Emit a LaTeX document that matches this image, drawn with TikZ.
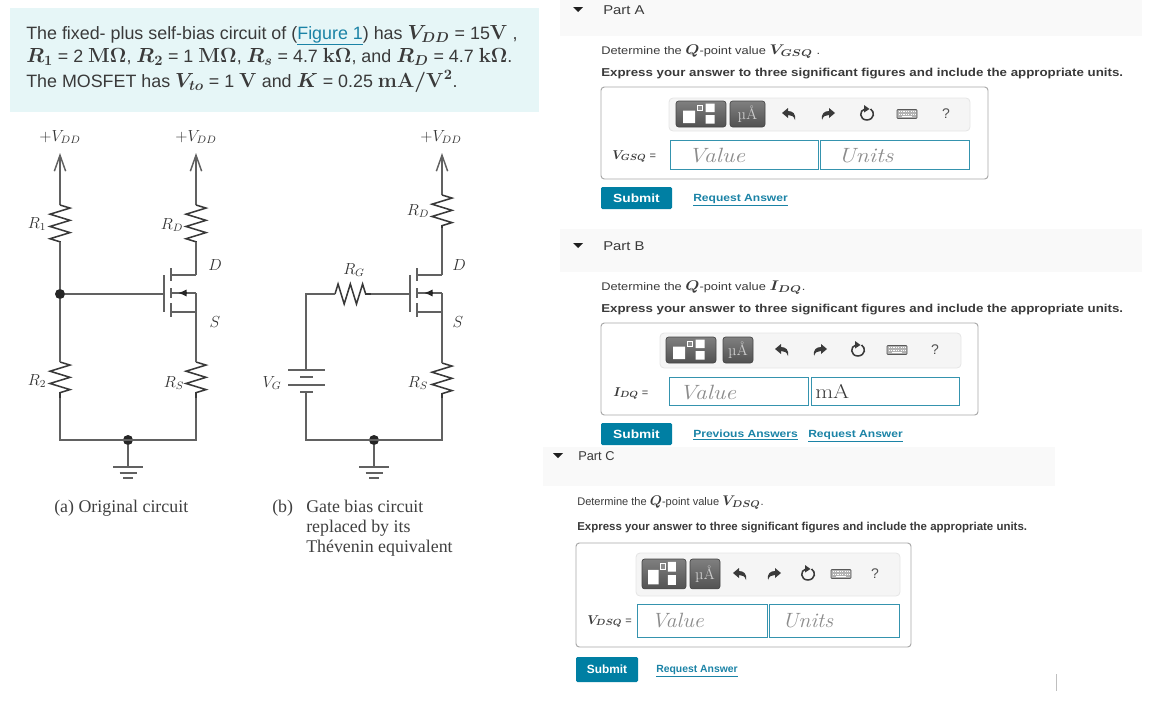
\documentclass[tikz,border=0pt]{standalone}
\usepackage{fix-cm}
\usepackage[no-math]{fontspec}
\setsansfont{Liberation Sans}
\newfontfamily\capfont{Liberation Serif}
\usetikzlibrary{arrows.meta,decorations.pathmorphing}
\definecolor{panelblue}{HTML}{E6F6F7}
\definecolor{headgray}{HTML}{F9F9F9}
\definecolor{inktext}{HTML}{3A3A3A}
\definecolor{linkteal}{HTML}{1B83A6}
\definecolor{btnteal}{HTML}{007FA3}
\definecolor{boxteal}{HTML}{3593AE}
\newcommand{\fsz}[1]{\fontsize{#1}{#1}\selectfont}
\newcommand{\mth}[1]{{\fsz{15.3}\boldmath$#1$}}
\newcommand{\mtq}[1]{{\fsz{10.5}\boldmath$#1$}}
\newcommand{\mtl}[1]{{\fsz{9.6}\boldmath$#1$}}
\newcommand{\widen}[1]{\scalebox{1.16}[1]{#1}}
\newcommand{\widec}[1]{\scalebox{1.07}[1]{#1}}
\tikzset{
	wire/.style={draw=black!62,line width=1.1pt},
	resist/.style={draw=black!78,line width=1.15pt,decorate,
		decoration={zigzag,segment length=9.2pt,amplitude=7.5pt}},
	dotnode/.style={circle,fill=black!85,inner sep=0pt,minimum size=7.5pt},
	fig/.style={text=black!80,inner sep=0pt,font=\fsz{12}},
	caption/.style={text=black!75,inner sep=0pt,anchor=base west,font=\capfont\fsz{13.4}},
	body/.style={text=inktext,inner sep=0pt,anchor=base west,font=\sffamily\fsz{13.4}},
	parttext/.style={text=inktext,inner sep=0pt,anchor=base west,font=\sffamily\fsz{9.6}},
	small/.style={text=inktext,inner sep=0pt,anchor=base west,font=\sffamily\fsz{8.3}},
	strong/.style={text=inktext,inner sep=0pt,anchor=base west,font=\sffamily\bfseries\fsz{8.6}},
	linktext/.style={text=linkteal,inner sep=0pt,anchor=base west,font=\sffamily\bfseries\fsz{7.8}},
	submit/.style={fill=btnteal,text=white,rounded corners=1pt,inner sep=0pt,
		minimum width=#1*.75pt,minimum height=22*.75pt,font=\sffamily\bfseries\fsz{8.9}},
	inbox/.style 2 args={draw=boxteal,line width=.8pt,inner sep=0pt,anchor=north west,
		minimum width=#1*.75pt,minimum height=#2*.75pt},
	hint/.style={text=black!45,inner sep=0pt,anchor=base west,font=\rmfamily\itshape\fsz{15.5}},
	panel/.style={draw=black!35,line width=.7pt,rounded corners=2.5pt},
	toolstrip/.style={draw=black!10,fill=black!4,rounded corners=3pt,line width=.6pt},
	head/.style={fill=headgray,draw=none},
	tri/.style={fill=black!88,draw=none},
	helpmark/.style={text=black!68,inner sep=0pt,font=\sffamily\fsz{10.5}},
	mosfet/.pic={
		\coordinate (-g) at (-32,0);
		\coordinate (-d) at (0,-19);
		\coordinate (-s) at (0,-1);
		\coordinate (-e) at (0,18);
		\coordinate (-m) at (-18,-1);
		\coordinate (-c) at (-25,-1);
		\draw[wire,line width=1.4pt] (-32,-19) -- (-32,18);
		\draw[wire,line width=1.4pt] (-25,-26) -- (-25,-13) (-25,-6) -- (-25,4) (-25,9) -- (-25,23);
		\draw[wire] (-25,-19) -- (-d) (-25,18) -- (-e);
		\draw[wire] (-s) -- (-m);
		\draw[wire,black!85,-{Latex[length=6.5pt,width=5.5pt]}] (-9,-1) -- (-m);
		\draw[wire] (-m) -- (-c);
	},
	groundsym/.pic={
		\coordinate (-top) at (0,0);
		\draw[wire,line width=1.3pt] (-15,0) -- (15,0) (-8.5,6) -- (8.5,6) (-5,11) -- (5,11);
	},
	matbtn/.pic={
		\shade[top color=black!50,bottom color=black!68,draw=black!72,rounded corners=2pt,line width=.5pt] (0,0) rectangle (50,26);
		\fill[white] (7,9.5) rectangle (19,22) (29.5,2.5) rectangle (38.5,11) (29.5,14) rectangle (38.5,22.5);
		\draw[white,line width=.4pt,fill=black!45] (21,4) rectangle (26,9);
	},
	unitbtn/.pic={
		\shade[top color=black!50,bottom color=black!68,draw=black!72,rounded corners=2pt,line width=.5pt] (0,0) rectangle (#1,26);
		\node[text=black!20,inner sep=0pt,font=\rmfamily\fsz{11.5}] (-lab) at (#1/2,13) {µÅ};
	},
	undoicon/.pic={
		\fill[inktext] (-7,-1) -- (-1,-6) -- (-1,-3) .. controls (4,-3) and (7,0) .. (6,6) .. controls (5,2) and (2,1) .. (-1,1) -- (-1,4) -- cycle;
	},
	reseticon/.pic={
		\draw[inktext,line width=1.15pt] (3.5,-5) .. controls (8,-2.5) and (7.5,5.5) .. (0,6) .. controls (-8,6) and (-8,-4) .. (-2,-5);
		\fill[inktext] (-3,-9) -- (2.5,-5) -- (-3,-1.5) -- cycle;
	},
	keyicon/.pic={
		\draw[black!65,fill=black!30,line width=.5pt,rounded corners=.6pt] (-10,-4.5) rectangle (10,4.5);
		\draw[white,line width=.7pt,dash pattern=on 1pt off .8pt] (-8.5,-2.2) -- (8.5,-2.2) (-8.5,0) -- (8.5,0);
		\draw[white,line width=.7pt] (-5,2.4) -- (5,2.4);
	}
}
\newcommand{\toolicons}[7]{
	\pic at (#1,#6) {undoicon};
	\pic[xscale=-1] at (#2,#6) {undoicon};
	\pic at (#3,#6) {reseticon};
	\pic at (#4,#6) {keyicon};
	\node[helpmark] (help#7) at (#5,#6) {?};
}
\begin{document}
\begin{tikzpicture}[x=.75pt,y=-.75pt]
	\useasboundingbox (0,0) rectangle (1164,714);
	\fill[panelblue] (10,8) rectangle (539,112);
	\node[body] (lineone) at (26,39) {The fixed- plus self-bias circuit of ({\color{linkteal}\underline{Figure 1}}) has \mth{V_{DD}} = 15\mth{\mathrm{V}} ,};
	\node[body] (linetwo) at (26,62) {\mth{R_1} = 2 \mth{\mathrm{M\Omega}}, \mth{R_2} = 1 \mth{\mathrm{M\Omega}}, \mth{R_s} = 4.7 \mth{\mathrm{k\Omega}}, and \mth{R_D} = 4.7 \mth{\mathrm{k\Omega}}.};
	\node[body] (linethree) at (26,87) {The MOSFET has \mth{V_{to}} = 1 \mth{\mathrm{V}} and \mth{K} = 0.25 \mth{\mathrm{mA/V^2}}.};

	\coordinate (vddl) at (60,153);
	\coordinate (rlt) at (60,205);
	\coordinate (rlb) at (60,242);
	\node[dotnode] (gatedot) at (60,294) {};
	\coordinate (rlct) at (60,362);
	\coordinate (rlcb) at (60,398);
	\coordinate (botl) at (60,440);
	\node[dotnode] (botdot) at (128,440) {};
	\coordinate (botr) at (196,440);
	\coordinate (vddr) at (196,153);
	\coordinate (rdt) at (196,205);
	\coordinate (rdb) at (196,242);
	\coordinate (rst) at (196,362);
	\coordinate (rsb) at (196,398);
	\pic (fet) at (196,294) {mosfet};
	\pic (gnd) at (128,467) {groundsym};
	\draw[wire,-{Straight Barb[length=12pt,width=8.5pt]}] (rlt) -- (vddl);
	\draw[wire,-{Straight Barb[length=12pt,width=8.5pt]}] (rdt) -- (vddr);
	\draw[resist] (rlt) -- (rlb);
	\draw[resist] (rlct) -- (rlcb);
	\draw[resist] (rdt) -- (rdb);
	\draw[resist] (rst) -- (rsb);
	\draw[wire] (rlb) -- (gatedot) -- (rlct);
	\draw[wire] (gatedot) -- (fet-g);
	\draw[wire] (rdb) -- (fet-d);
	\draw[wire] (fet-s) -- (rst);
	\draw[wire] (rlcb) -- (botl) -- (botr) -- (rsb);
	\draw[wire] (botdot) -- (gnd-top);
	\node[fig] (vddla) at (60,137) {$+V_{DD}$};
	\node[fig] (vddlb) at (196,137) {$+V_{DD}$};
	\node[fig] (ronelab) at (37,224) {$R_1$};
	\node[fig] (rdlab) at (172,225) {$R_D$};
	\node[fig] (dlab) at (215,265) {$D$};
	\node[fig] (slab) at (215,322) {$S$};
	\node[fig] (rtwolab) at (37,381) {$R_2$};
	\node[fig] (rslab) at (174,383) {$R_S$};
	\node[caption] (capa) at (54,512) {(a) Original circuit};

	\coordinate (gbl) at (306,294);
	\coordinate (rgl) at (335,294);
	\coordinate (rgr) at (371,294);
	\coordinate (batt) at (306,370);
	\coordinate (batb) at (306,392);
	\coordinate (bbl) at (306,440);
	\node[dotnode] (bdot) at (374,440) {};
	\coordinate (bbr) at (442,440);
	\coordinate (vddb) at (442,153);
	\coordinate (rdbt) at (442,195);
	\coordinate (rdbb) at (442,228);
	\coordinate (rsbt) at (442,363);
	\coordinate (rsbb) at (442,398);
	\pic (fetb) at (442,294) {mosfet};
	\pic (gndb) at (374,467) {groundsym};
	\draw[wire,-{Straight Barb[length=12pt,width=8.5pt]}] (rdbt) -- (vddb);
	\draw[resist] (rdbt) -- (rdbb);
	\draw[resist] (rsbt) -- (rsbb);
	\draw[resist] (rgl) -- (rgr);
	\draw[wire] (rgr) -- (fetb-g);
	\draw[wire] (batt) -- (gbl) -- (rgl);
	\draw[wire] (batb) -- (bbl) -- (bbr) -- (rsbb);
	\draw[wire] (rdbb) -- (fetb-d);
	\draw[wire] (fetb-s) -- (rsbt);
	\draw[wire] (bdot) -- (gndb-top);
	\draw[wire,line width=1.4pt] (288,370) -- (325,370) (300,377) -- (313,377) (288,385) -- (325,385) (300,392) -- (313,392);
	\node[fig] (vddc) at (441,137) {$+V_{DD}$};
	\node[fig] (vglab) at (272,383) {$V_G$};
	\node[fig] (rglab) at (354,270) {$R_G$};
	\node[fig] (rdblab) at (418,211) {$R_D$};
	\node[fig] (rsblab) at (418,383) {$R_S$};
	\node[fig] (dblab) at (459,265) {$D$};
	\node[fig] (sblab) at (458,322) {$S$};
	\node[caption] (capb) at (272,512) {(b)};
	\node[caption] (capba) at (306,512) {Gate bias circuit};
	\node[caption] (capbb) at (306,532) {replaced by its};
	\node[caption] (capbc) at (306,552) {Thévenin equivalent};

	\fill[head] (560,0) rectangle (1142,36);
	\fill[tri] (573,7) -- (583,7) -- (578,12) -- cycle;
	\node[parttext] (parta) at (603,14) {\widen{Part A}};
	\node[small] (deta) at (601,54) {\widen{Determine the \mtq{Q}-point value \mtq{V_{GSQ}} .}};
	\node[strong] (expa) at (601,76) {\widen{Express your answer to three significant figures and include the appropriate units.}};
	\draw[panel] (601,87) rectangle (988,179);
	\draw[toolstrip] (669,98) rectangle (970,131);
	\pic at (676,101) {matbtn};
	\pic at (730,101) {unitbtn=35};
	\toolicons{789}{828}{867}{907}{946}{114}{a}
	\node[small] (vgsq) at (612,159) {\mtl{V_{GSQ}} =};
	\node[inbox={148}{29}] (valuea) at (670,140) {};
	\node[inbox={149}{29}] (unitsa) at (820,140) {};
	\node[hint] (valuetexta) at (688,162) {\widen{Value}};
	\node[hint] (unitstexta) at (838,162) {\widen{Units}};
	\node[submit=71] (submita) at (636.5,198) {\widen{Submit}};
	\node[linktext] (reqa) at (693,201) {\widen{\underline{Request Answer}}};

	\fill[head] (560,229) rectangle (1142,272);
	\fill[tri] (573,243) -- (583,243) -- (578,248) -- cycle;
	\node[parttext] (partb) at (603,250) {\widen{Part B}};
	\node[small] (detb) at (601,290) {\widen{Determine the \mtq{Q}-point value \mtq{I_{DQ}}.}};
	\node[strong] (expb) at (601,312) {\widen{Express your answer to three significant figures and include the appropriate units.}};
	\draw[panel] (601,323) rectangle (978,415);
	\draw[toolstrip] (660,333) rectangle (961,368);
	\pic at (666,337) {matbtn};
	\pic at (723,337) {unitbtn=30};
	\toolicons{782}{820}{858}{897}{935}{350}{b}
	\node[small] (idq) at (613,396) {\mtl{I_{DQ}} =};
	\node[inbox={139}{28}] (valueb) at (669,377) {};
	\node[inbox={148}{28}] (unitsb) at (811,377) {};
	\node[hint] (valuetextb) at (679,399) {\widen{Value}};
	\node[text=inktext,inner sep=0pt,anchor=base west,font=\rmfamily\fsz{15}] (unitstextb) at (815,398) {\widen{mA}};
	\node[submit=71] (submitb) at (636.5,434) {\widen{Submit}};
	\node[linktext] (prevb) at (693,437) {\widen{\underline{Previous Answers}}};
	\node[linktext] (reqb) at (808,437) {\widen{\underline{Request Answer}}};

	\fill[head] (543,447) rectangle (1055,486);
	\fill[tri] (553,453) -- (563,453) -- (558,458) -- cycle;
	\node[parttext] (partc) at (578,460) {Part C};
	\node[small] (detc) at (577,505) {Determine the \mtq{Q}-point value \mtq{V_{DSQ}}.};
	\node[strong] (expc) at (577,530) {Express your answer to three significant figures and include the appropriate units.};
	\draw[panel] (576,543) rectangle (911,647);
	\draw[toolstrip] (636,553) rectangle (900,596);
	\pic[xscale=.88,yscale=1.15] at (642,559) {matbtn};
	\pic[yscale=1.15] at (690,559) {unitbtn=30};
	\toolicons{740}{774}{808}{841}{875}{574}{c}
	\node[small] (vdsq) at (587,624) {\mtl{V_{DSQ}} =};
	\node[inbox={130}{33}] (valuec) at (637,604) {};
	\node[inbox={130}{33}] (unitsc) at (769,604) {};
	\node[hint] (valuetextc) at (651,627) {\widec{Value}};
	\node[hint] (unitstextc) at (782,627) {\widec{Units}};
	\node[submit=62,minimum height=25*.75pt] (submitc) at (607,669.5) {Submit};
	\node[linktext] (reqc) at (656,672) {\underline{Request Answer}};
	\draw[black!25,line width=.6pt] (1056,674) -- (1056,691);
\end{tikzpicture}
\end{document}
